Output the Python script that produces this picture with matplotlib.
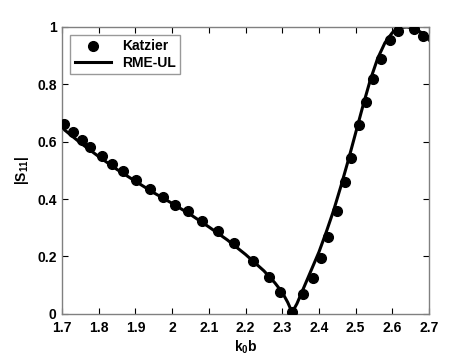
import numpy as np
import matplotlib.pyplot as plt

plt.rcParams['font.family'] = ['Liberation Sans', 'DejaVu Sans']
plt.rcParams['font.weight'] = 'bold'
plt.rcParams['mathtext.fontset'] = 'custom'
plt.rcParams['mathtext.rm'] = 'Liberation Sans:bold'
plt.rcParams['mathtext.bf'] = 'Liberation Sans:bold'

# Katzier measured points
katz_x = [1.706, 1.729, 1.754, 1.777, 1.810, 1.837, 1.867, 1.902, 1.940, 1.974,
          2.008, 2.044, 2.082, 2.126, 2.169, 2.221, 2.265, 2.294, 2.326, 2.356,
          2.383, 2.406, 2.426, 2.448, 2.471, 2.487, 2.510, 2.528, 2.548, 2.568,
          2.594, 2.615, 2.660, 2.685]
katz_y = [0.663, 0.634, 0.605, 0.580, 0.549, 0.523, 0.497, 0.465, 0.434, 0.407,
          0.381, 0.358, 0.325, 0.287, 0.248, 0.185, 0.127, 0.075, 0.006, 0.069,
          0.125, 0.195, 0.267, 0.358, 0.459, 0.543, 0.657, 0.739, 0.817, 0.890,
          0.955, 0.987, 0.992, 0.970]

# RME-UL curve
rme_x = [1.70, 1.75, 1.80, 1.85, 1.90, 1.95, 2.00, 2.05, 2.10, 2.15, 2.20, 2.25,
         2.28, 2.30, 2.315, 2.327, 2.34, 2.36, 2.38, 2.40, 2.42, 2.44, 2.46,
         2.48, 2.50, 2.52, 2.54, 2.56, 2.58, 2.60, 2.62, 2.64, 2.66, 2.68, 2.70]
rme_y = [0.648, 0.596, 0.548, 0.503, 0.462, 0.422, 0.385, 0.346, 0.303, 0.258,
         0.207, 0.150, 0.108, 0.075, 0.040, 0.005, 0.035, 0.095, 0.155, 0.215,
         0.285, 0.360, 0.445, 0.535, 0.630, 0.725, 0.815, 0.890, 0.945, 0.980,
         0.998, 1.000, 0.995, 0.980, 0.955]

fig = plt.figure(figsize=(4.74, 3.55), dpi=100)
ax = fig.add_axes([0.131, 0.116, 0.774, 0.808])

ax.plot(katz_x, katz_y, 'o', color='black', markersize=7, label='Katzier', zorder=3)
ax.plot(rme_x, rme_y, '-', color='black', linewidth=2.2, label='RME-UL', zorder=2)

ax.set_xlim(1.7, 2.7)
ax.set_ylim(0, 1)
ax.set_xticks(np.arange(1.7, 2.71, 0.1))
ax.set_xticklabels(['1.7', '1.8', '1.9', '2', '2.1', '2.2', '2.3', '2.4', '2.5', '2.6', '2.7'])
ax.set_yticks([0, 0.2, 0.4, 0.6, 0.8, 1])
ax.set_yticklabels(['0', '0.2', '0.4', '0.6', '0.8', '1'])
ax.tick_params(direction='in', top=True, right=True, labelsize=10, colors='black',
               length=4, width=0.8)
ax.tick_params(axis='x', pad=5)
ax.tick_params(axis='y', pad=4)
for t in ax.get_xticklabels() + ax.get_yticklabels():
    t.set_fontweight('bold')
for s in ax.spines.values():
    s.set_color('#808080')
    s.set_linewidth(1.0)

ax.set_xlabel(r'k$_\mathbf{0}$b', fontsize=10, fontweight='bold', labelpad=3)
ax.set_ylabel(r'|S$_\mathbf{11}$|', fontsize=10, fontweight='bold', labelpad=4)

leg = ax.legend(loc='upper left', fontsize=10, frameon=True, fancybox=False,
                borderaxespad=0.6, handlelength=2.6, borderpad=0.3, labelspacing=0.2)
leg.get_frame().set_edgecolor('#808080')
leg.get_frame().set_linewidth(1.0)
for t in leg.get_texts():
    t.set_fontweight('bold')

fig.savefig('out.png', dpi=100)
